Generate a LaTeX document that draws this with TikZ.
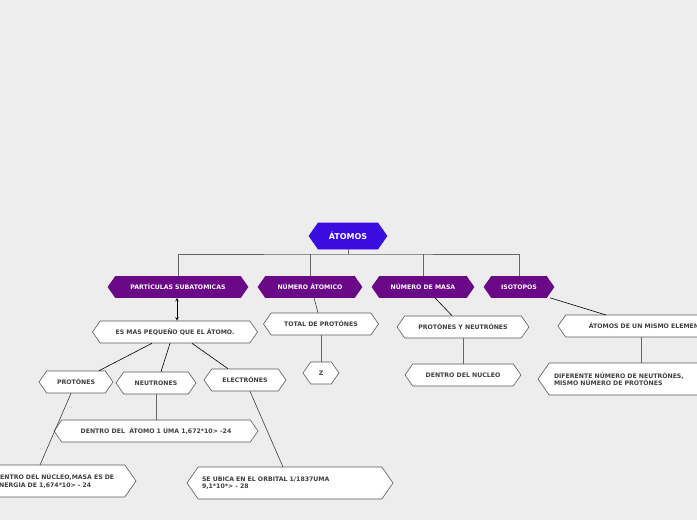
\documentclass[tikz,border=0pt]{standalone}
\usepackage{fontspec}
\setmainfont{DejaVu Sans}
\usetikzlibrary{shapes.symbols}
\definecolor{bg}{HTML}{EDEDED}
\definecolor{topc}{HTML}{3A0CE0}
\definecolor{purp}{HTML}{6A0888}
\definecolor{edge}{HTML}{4A3A30}
\tikzset{
 hex/.style={signal, signal to=west and east, signal pointer angle=110, draw=black!65, fill=white, line width=0.6pt, inner ysep=0pt, inner xsep=2pt, font=\bfseries\fontsize{6.2}{7.2}\selectfont, text=black!75, align=center},
 cat/.style={hex, fill=purp, draw=purp, text=white},
 conn/.style={draw=edge, line width=0.6pt},
}
\begin{document}
\begin{tikzpicture}[x=1pt,y=-1pt]
\fill[bg] (0,0) rectangle (697,520);
\clip (0,0) rectangle (697,520);
\useasboundingbox (0,0) rectangle (697,520);
\node[hex, fill=topc, draw=topc, text=white, minimum width=78, minimum height=26, font=\bfseries\fontsize{8}{9}\selectfont] (at) at (348,236) {ÁTOMOS};
\node[cat, minimum width=140, minimum height=21] (ps) at (178,287) {PARTÍCULAS SUBATOMICAS};
\node[cat, minimum width=104, minimum height=21] (na) at (310,287) {NÚMERO ÁTOMICO};
\node[cat, minimum width=102, minimum height=21] (nm) at (423,287) {NÚMERO DE MASA};
\node[cat, minimum width=70, minimum height=21] (is) at (519,287) {ISOTOPOS};
\node[hex, minimum width=165, minimum height=22] (em) at (175,332) {ES MAS PEQUEÑO QUE EL ÁTOMO.};
\node[hex, minimum width=115, minimum height=22] (tp) at (321,324) {TOTAL DE PROTÓNES};
\node[hex, minimum width=36, minimum height=22] (z) at (321,373) {Z};
\node[hex, minimum width=132, minimum height=22] (pn) at (463,327) {PROTÓNES Y NEUTRÓNES};
\node[hex, minimum width=116, minimum height=22] (dn) at (463,375) {DENTRO DEL NUCLEO};
\node[hex, minimum width=166, minimum height=22] (am) at (641,326) {\hspace*{2.5em}ÁTOMOS DE UN MISMO ELEMENTO};
\node[hex, minimum width=182, minimum height=32, text width=150, align=left] (df) at (629,379) {DIFERENTE NÚMERO DE NEUTRÓNES,\\MISMO NÚMERO DE PROTÓNES};
\node[hex, minimum width=74, minimum height=22] (pr) at (76,382) {PROTÓNES};
\node[hex, minimum width=80, minimum height=22] (ne) at (156,383) {NEUTRONES};
\node[hex, minimum width=82, minimum height=22] (el) at (245,380) {ELECTRÓNES};
\node[hex, minimum width=204, minimum height=22] (da) at (156,431) {DENTRO DEL\ \ ÁTOMO 1 UMA 1,672*10> -24};
\node[hex, minimum width=156, minimum height=32, text width=126, align=left] (dnu) at (58,481) {DENTRO DEL NÚCLEO,MASA ES DE\\ENERGIA DE 1,674*10> - 24\hspace*{-5em}};
\node[hex, minimum width=206, minimum height=32, text width=176, align=left] (su) at (290,483) {SE UBICA EN EL ORBITAL 1/1837UMA\\9,1*10*> - 28};
% bus
\coordinate (bus) at (348,254);
\draw[conn, draw=black!60] (at.south) -- (bus);
\draw[conn, draw=black!60] (ps.north) |- (bus) -| (is.north);
\draw[conn, draw=black!60] (na.north) -- (na.north |- bus);
\draw[conn, draw=black!60] (nm.north) -- (nm.north |- bus);
\draw[conn, draw=black, <->, >=stealth] (ps.south -| 177,0) -- (em.north -| 177,0);
\draw[conn] ([xshift=4]na.south) -- ([xshift=-3]tp.north);
\draw[conn, draw=black!60] (tp.south) -- (z.north);
\draw[conn, draw=black] ([xshift=12]nm.south) -- ([xshift=-11]pn.north);
\draw[conn, draw=black] ([xshift=31]is.south) -- (606,315);
\draw[conn, draw=black!60] (pn.south) -- (dn.north);
\draw[conn, draw=black!60] (am.south) -- (df.north -| am.south);
\draw[conn, draw=black] ([xshift=-23]em.south) -- ([xshift=23]pr.north);
\draw[conn, draw=black] ([xshift=-5]em.south) -- ([xshift=5]ne.north);
\draw[conn, draw=black] ([xshift=17]em.south) -- ([xshift=-17]el.north);
\draw[conn, draw=black!60] (ne.south) -- (da.north -| ne.south);
\draw[conn] ([xshift=-5]pr.south) -- (40,465);
\draw[conn] ([xshift=5]el.south) -- (283,467);
\end{tikzpicture}
\end{document}
